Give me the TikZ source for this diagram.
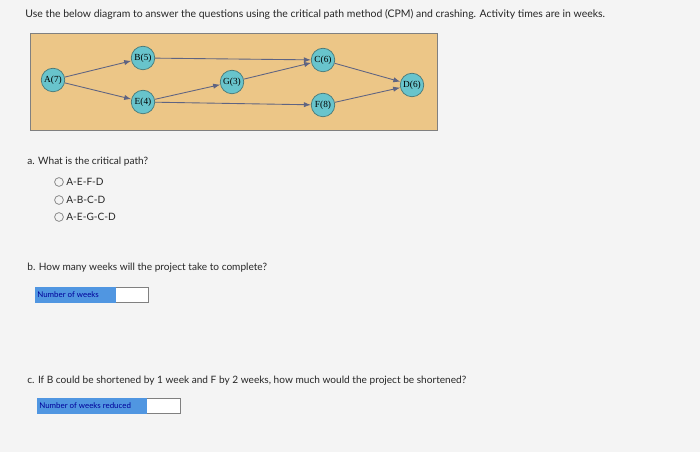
\documentclass[tikz,border=0pt]{standalone}
\usepackage{fontspec}
\setmainfont{Lato}
\newfontfamily\nodefont{Liberation Serif}
\usetikzlibrary{arrows.meta}
\definecolor{panel}{RGB}{236,198,135}
\definecolor{act}{RGB}{104,196,204}
\definecolor{actline}{RGB}{70,120,120}
\definecolor{edgecol}{RGB}{95,100,130}
\definecolor{fieldblue}{RGB}{80,150,225}
\definecolor{paper}{RGB}{244,244,244}
\begin{document}
\begin{tikzpicture}[x=0.02cm, y=-0.02cm,
    act/.style={circle, draw=actline, fill=act, minimum size=0.47cm, inner sep=0pt, font=\fontsize{5.3}{5}\nodefont},
    link/.style={draw=edgecol, line width=0.5pt, -{Latex[length=4pt,width=3pt]}},
    txt/.style={anchor=west, inner sep=0pt, font=\fontsize{5.95}{7}\selectfont, text=black!85},
    ask/.style={txt, font=\fontsize{5.75}{7}\selectfont},
    radio/.style={circle, draw=gray, minimum size=5pt, inner sep=0pt}]
  \useasboundingbox[fill=paper] (0,0) rectangle (700,452);
  \node[txt] (title) at (25,14) {Use the below diagram to answer the questions using the critical path method (CPM) and crashing. Activity times are in weeks.};
  % network panel
  \draw[gray, fill=panel] (30,33) rectangle (437,130);
  \node[act] (A) at (53,80) {A(7)};
  \node[act] (B) at (143,58) {B(5)};
  \node[act] (E) at (143,102) {E(4)};
  \node[act] (G) at (232,82) {G(3)};
  \node[act] (C) at (323,60) {C(6)};
  \node[act] (F) at (323,105) {F(8)};
  \node[act] (D) at (412,85) {D(6)};
  \draw[link] (A) -- (B);
  \draw[link] (A) -- (E);
  \draw[link] (B) -- (C);
  \draw[link] (E) -- (G);
  \draw[link] (E) -- (F);
  \draw[link] (G) -- (C);
  \draw[link] (C) -- (D);
  \draw[link] (F) -- (D);
  % part a
  \node[ask] (qa) at (27,162) {a. What is the critical path?};
  \node[radio] (r1) at (59,182) {};
  \node[radio] (r2) at (59,200) {};
  \node[radio] (r3) at (59,217) {};
  \node[ask] (o1) at (66,182) {A-E-F-D};
  \node[ask] (o2) at (66,200) {A-B-C-D};
  \node[ask] (o3) at (66,217) {A-E-G-C-D};
  % part b
  \node[ask] (qb) at (27,268) {b. How many weeks will the project take to complete?};
  \draw[gray, fill=white] (35,287) rectangle (148,302);
  \draw[fill=fieldblue, draw=fieldblue] (35,287) rectangle (115,302);
  \node[txt, text=blue!60!black, font=\fontsize{4.5}{5}\selectfont] (lb) at (37,294.5) {Number of weeks};
  % part c
  \node[ask] (qc) at (27,381) {c. If B could be shortened by 1 week and F by 2 weeks, how much would the project be shortened?};
  \draw[gray, fill=white] (37,398) rectangle (180,413);
  \draw[fill=fieldblue, draw=fieldblue] (37,398) rectangle (146,413);
  \node[txt, text=blue!60!black, font=\fontsize{4.5}{5}\selectfont] (lc) at (39,405.5) {Number of weeks reduced};
\end{tikzpicture}
\end{document}
